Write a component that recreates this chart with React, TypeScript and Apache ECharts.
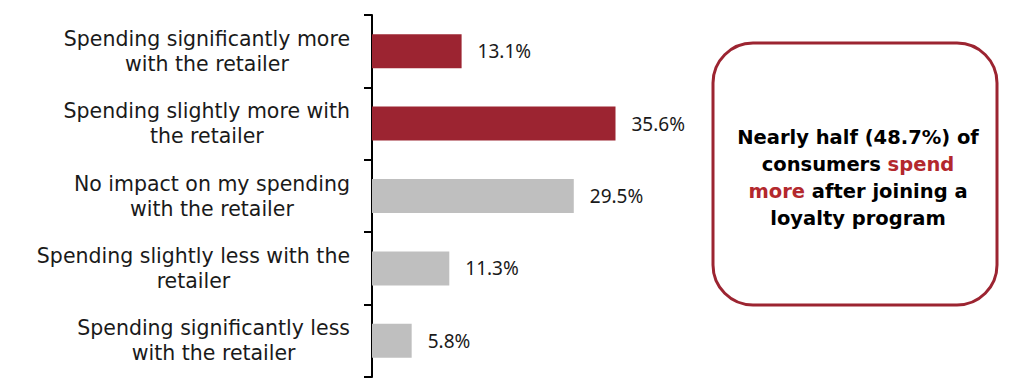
import React, { useEffect, useRef } from "react";
import * as echarts from "echarts";

const categories: string[] = [
  "Spending significantly more\nwith the retailer",
  "Spending slightly more with\nthe retailer",
  "No impact on my spending\nwith the retailer",
  "Spending slightly less with the\nretailer",
  "Spending significantly less\nwith the retailer",
];
const values: number[] = [13.1, 35.6, 29.5, 11.3, 5.8];
const highlighted: boolean[] = [true, true, false, false, false];

const RED = "#9C2431";
const GRAY = "#BFBFBF";
const FONT = "DejaVu Sans";

export default function App() {
  const ref = useRef<HTMLDivElement>(null);
  useEffect(() => {
    if (!ref.current) return;
    const chart = echarts.init(ref.current, undefined, { renderer: "svg" });
    chart.setOption({
      animation: false,
      grid: { left: 372, top: 15, width: 342, height: 362, containLabel: false },
      xAxis: { type: "value", min: 0, max: 50, show: false },
      yAxis: {
        type: "category",
        data: categories,
        inverse: true,
        axisLine: { show: true, lineStyle: { color: "#000", width: 2 } },
        axisTick: { show: true, length: 8, lineStyle: { color: "#000", width: 2 } },
        axisLabel: {
          margin: 22,
          align: "right",
          formatter: (v: string) =>
            v.split("\n").map((l) => `{c|${l}}`).join("\n"),
          rich: {
            c: {
              align: "center",
              fontFamily: FONT,
              fontSize: 20.5,
              color: "#1a1a1a",
              lineHeight: 25,
            },
          },
        },
      },
      series: [
        {
          type: "bar",
          barWidth: 34,
          data: values.map((v, i) => ({
            value: v,
            itemStyle: { color: highlighted[i] ? RED : GRAY },
          })),
          label: {
            show: true,
            position: "right",
            distance: 16,
            formatter: (p: any) => `${p.value.toFixed(1)}%`,
            fontFamily: "Noto Sans",
            fontSize: 19,
            color: "#1a1a1a",
          },
        },
      ],
      graphic: [
        {
          type: "rect",
          shape: { x: 713, y: 43, width: 284, height: 262, r: 40 },
          style: { fill: "#fff", stroke: RED, lineWidth: 3 },
        },
        {
          type: "text",
          x: 858,
          y: 178,
          style: {
            text:
              "{b|Nearly half (48.7%) of}\n{b|consumers }{r|spend}\n{r|more}{b| after joining a}\n{b|loyalty program}",
            align: "center",
            verticalAlign: "middle",
            rich: {
              b: { fontFamily: FONT, fontWeight: "bold", fontSize: 19.5, fill: "#000", lineHeight: 27 },
              r: { fontFamily: FONT, fontWeight: "bold", fontSize: 19.5, fill: "#B3282D", lineHeight: 27 },
            },
          },
        },
      ],
    });
    return () => chart.dispose();
  }, []);
  return (
    <div
      ref={ref}
      style={{ position: "fixed", left: 0, top: 0, width: 1024, height: 388, background: "#fff" }}
    />
  );
}
